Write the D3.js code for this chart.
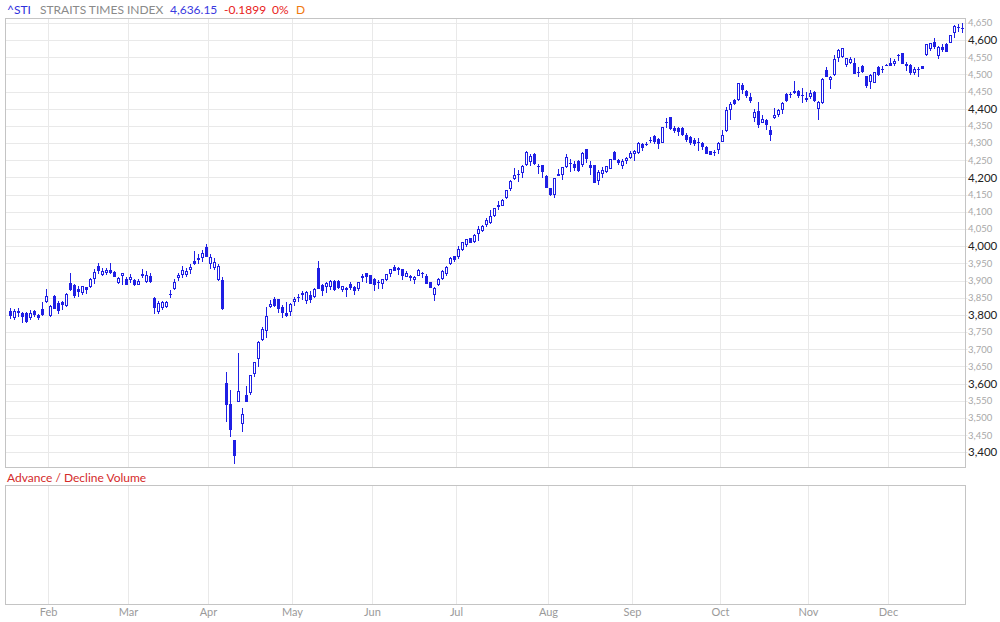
<!DOCTYPE html>
<html><head><meta charset="utf-8">
<script src="https://cdn.jsdelivr.net/npm/d3@7"></script>
<style>
html,body{margin:0;padding:0;background:#fff;}
svg{display:block;font-family:Lato,"Open Sans",sans-serif;}
</style></head>
<body><svg id="chart" width="1000" height="622"></svg>
<script>
// ---- data (STI daily, 2025-01-16 .. 2025-12-26) ----
const opens = [3811,3793,3811,3806,3806,3793,3811,3800,3817,3841,3800,3855,3835,3838,3828,3893,3887,3875,3868,3880,3885,3906,3942,3920,3924,3931,3925,3896,3915,3904,3904,3901,3891,3920,3898,3913,3850,3810,3824,3827,3860,3879,3909,3918,3919,3934,3957,3964,3968,3997,3950,3938,3905,3902,3601,3541,3436,3548,3484,3567,3575,3630,3674,3729,3755,3825,3846,3845,3822,3805,3810,3840,3852,3861,3843,3857,3855,3936,3886,3883,3885,3899,3898,3875,3876,3891,3881,3877,3911,3921,3917,3905,3895,3892,3904,3921,3939,3936,3934,3914,3911,3903,3917,3921,3913,3896,3860,3890,3907,3922,3951,3970,3972,3991,4005,4023,4016,4039,4048,4063,4069,4092,4118,4121,4142,4170,4199,4210,4217,4238,4249,4268,4234,4235,4205,4168,4153,4208,4209,4234,4242,4240,4247,4238,4282,4237,4237,4192,4212,4220,4228,4274,4251,4235,4250,4258,4270,4273,4297,4296,4309,4320,4311,4304,4360,4375,4344,4344,4344,4324,4317,4308,4303,4300,4288,4277,4273,4282,4307,4338,4399,4424,4427,4469,4451,4433,4377,4393,4362,4367,4337,4376,4384,4400,4443,4443,4450,4452,4440,4430,4438,4449,4401,4418,4512,4485,4500,4550,4552,4530,4536,4532,4508,4525,4494,4482,4479,4521,4515,4527,4532,4532,4556,4561,4529,4528,4507,4515,4523,4558,4576,4595,4556,4580,4589,4595,4622,4638,4636];
const highs = [3819,3817,3819,3809,3809,3813,3815,3803,3838,3874,3828,3858,3839,3840,3865,3922,3890,3885,3883,3880,3906,3934,3950,3935,3937,3950,3929,3909,3922,3911,3919,3904,3904,3933,3929,3923,3853,3841,3841,3839,3873,3905,3921,3942,3936,3948,3987,3976,3989,4005,3976,3965,3947,3910,3633,3581,3436,3688,3528,3593,3624,3662,3724,3764,3822,3843,3852,3845,3828,3838,3834,3851,3860,3869,3870,3869,3879,3957,3891,3895,3902,3902,3901,3883,3880,3897,3884,3896,3920,3922,3917,3908,3901,3904,3920,3934,3945,3938,3934,3928,3915,3914,3933,3925,3919,3896,3882,3907,3931,3941,3967,3972,4000,4013,4022,4025,4035,4060,4061,4082,4106,4111,4131,4136,4164,4193,4227,4223,4235,4277,4267,4270,4239,4235,4207,4168,4199,4224,4231,4267,4253,4248,4250,4274,4283,4247,4237,4221,4229,4234,4255,4277,4254,4253,4259,4278,4280,4303,4299,4302,4319,4323,4315,4348,4372,4377,4350,4348,4346,4329,4321,4314,4314,4303,4291,4277,4279,4302,4337,4406,4420,4427,4476,4474,4455,4446,4398,4420,4381,4369,4349,4401,4400,4419,4445,4450,4481,4455,4460,4448,4455,4451,4421,4488,4521,4494,4557,4573,4576,4548,4550,4548,4521,4527,4496,4501,4508,4523,4523,4530,4547,4545,4560,4563,4537,4530,4522,4520,4524,4588,4592,4605,4582,4587,4590,4615,4644,4645,4650];
const lows = [3792,3789,3797,3778,3780,3788,3797,3789,3800,3837,3796,3819,3805,3816,3827,3872,3853,3855,3861,3863,3880,3894,3921,3915,3918,3922,3914,3892,3889,3889,3895,3888,3889,3911,3897,3897,3805,3805,3818,3822,3851,3874,3902,3910,3913,3922,3947,3952,3957,3970,3937,3933,3902,3818,3492,3449,3370,3548,3463,3548,3569,3622,3652,3727,3737,3822,3826,3807,3795,3798,3800,3830,3841,3846,3836,3838,3851,3879,3859,3867,3876,3873,3877,3869,3856,3874,3860,3873,3900,3896,3894,3871,3877,3877,3901,3912,3930,3919,3905,3912,3902,3892,3915,3909,3893,3882,3843,3888,3905,3916,3948,3958,3966,3989,4000,4011,4012,4019,4045,4059,4067,4089,4109,4119,4140,4163,4195,4191,4202,4236,4237,4240,4214,4202,4173,4149,4143,4206,4196,4231,4220,4221,4219,4234,4246,4211,4186,4182,4202,4217,4227,4254,4238,4226,4241,4257,4252,4271,4280,4293,4303,4301,4287,4302,4348,4340,4331,4322,4323,4306,4298,4293,4280,4283,4272,4267,4264,4272,4305,4335,4371,4413,4426,4447,4435,4420,4363,4346,4360,4341,4310,4374,4378,4386,4422,4435,4445,4435,4418,4422,4431,4421,4370,4416,4494,4460,4498,4540,4551,4523,4534,4503,4494,4508,4462,4460,4477,4499,4508,4526,4526,4527,4543,4532,4512,4502,4502,4494,4517,4556,4572,4576,4547,4568,4568,4593,4609,4627,4623];
const closes = [3800,3811,3808,3796,3781,3805,3804,3795,3802,3854,3826,3821,3813,3831,3861,3874,3859,3870,3883,3875,3904,3924,3931,3928,3931,3925,3914,3906,3922,3891,3910,3889,3899,3915,3916,3898,3824,3835,3838,3838,3862,3895,3917,3930,3927,3939,3951,3965,3981,3972,3968,3953,3941,3821,3540,3467,3391,3578,3512,3548,3624,3662,3720,3758,3796,3831,3829,3820,3808,3799,3831,3846,3853,3863,3866,3846,3874,3879,3871,3892,3898,3874,3882,3883,3879,3881,3873,3896,3913,3913,3894,3889,3896,3904,3918,3934,3932,3933,3917,3922,3912,3910,3931,3922,3894,3882,3879,3905,3929,3938,3965,3964,3991,4011,4020,4013,4033,4049,4058,4076,4087,4110,4120,4134,4163,4190,4207,4211,4232,4274,4262,4241,4233,4219,4173,4152,4197,4209,4229,4260,4243,4230,4221,4272,4256,4229,4188,4217,4221,4232,4253,4255,4244,4248,4256,4270,4277,4301,4288,4297,4310,4306,4300,4346,4361,4345,4338,4335,4326,4313,4302,4299,4302,4290,4272,4268,4274,4300,4323,4396,4414,4417,4474,4457,4441,4425,4391,4355,4369,4356,4327,4382,4397,4416,4424,4444,4451,4441,4439,4429,4446,4424,4419,4486,4494,4491,4544,4571,4576,4547,4544,4504,4507,4511,4470,4498,4508,4501,4516,4528,4527,4540,4557,4534,4528,4508,4516,4515,4518,4588,4590,4582,4579,4573,4569,4613,4640,4639,4636];
const firstDay = "2025-01-16", lastDay = "2025-12-26";
const holidays = ["2025-01-29","2025-01-30","2025-03-31","2025-04-18","2025-05-01","2025-05-12","2025-10-20","2025-12-25"];
const yTickValues = [3400,3450,3500,3550,3600,3650,3700,3750,3800,3850,3900,3950,4000,4050,4100,4150,4200,4250,4300,4350,4400,4450,4500,4550,4600,4650];
const monthLabels = ["Jan","Feb","Mar","Apr","May","Jun","Jul","Aug","Sep","Oct","Nov","Dec"];
const headerTexts = ["^STI", "STRAITS TIMES INDEX", "4,636.15", "-0.1899", "0%", "D"];
const headerColors = ["#3030dc", "#8a8a8a", "#3a3ae0", "#e82222", "#e82222", "#f07a10"];
const headerX = [7, 40, 170, 224, 272, 296];
const panelTitle = "Advance / Decline Volume";

// ---- trading days ----
const parse = d3.utcParse("%Y-%m-%d"), fmtDay = d3.utcFormat("%Y-%m-%d");
const hol = new Set(holidays);
const dates = d3.utcDay.range(parse(firstDay), d3.utcDay.offset(parse(lastDay), 1))
  .filter(d => d.getUTCDay() !== 0 && d.getUTCDay() !== 6 && !hol.has(fmtDay(d)));
const N = closes.length;
const candles = d3.range(N).map(i => ({i, date: dates[i], o: opens[i], h: highs[i], l: lows[i], c: closes[i]}));

// ---- layout ----
const svg = d3.select("#chart");
const L = 5.5, R = 965.5, T = 18.5, B = 467.5, T2 = 485.5, B2 = 604.5;
const blue = "#1f1fe4";

const x = d3.scaleBand().domain(d3.range(N)).range([8.5, 8.5 + 4 * N]);
const y = d3.scaleLinear().domain([3356.5, 4663]).range([467.3, 18.3]);

// month starts
const monthStarts = [];
for (let i = 1; i < N; i++) {
  if (dates[i].getUTCMonth() !== dates[i-1].getUTCMonth()) monthStarts.push({i, label: monthLabels[dates[i].getUTCMonth()]});
}

const gridColor = "#e9e9e9", borderColor = "#c4c4c4";

// horizontal grid
svg.append("g").selectAll("line").data(yTickValues).join("line")
  .attr("x1", L).attr("x2", R + 2)
  .attr("y1", d => Math.round(y(d)) + 0.5).attr("y2", d => Math.round(y(d)) + 0.5)
  .attr("stroke", gridColor);

// vertical grid in both panels
const vg = svg.append("g");
vg.selectAll("line.a").data(monthStarts).join("line").attr("class","a")
  .attr("x1", d => x(d.i)).attr("x2", d => x(d.i)).attr("y1", T).attr("y2", B).attr("stroke", gridColor);
vg.selectAll("line.b").data(monthStarts).join("line").attr("class","b")
  .attr("x1", d => x(d.i)).attr("x2", d => x(d.i)).attr("y1", T2).attr("y2", B2).attr("stroke", gridColor);

// panel borders
svg.append("rect").attr("x", L).attr("y", T).attr("width", R - L).attr("height", B - T)
  .attr("fill", "none").attr("stroke", borderColor);
svg.append("rect").attr("x", L).attr("y", T2).attr("width", R - L).attr("height", B2 - T2)
  .attr("fill", "none").attr("stroke", borderColor);

// y labels
svg.append("g").selectAll("text").data(yTickValues).join("text")
  .attr("x", 968).attr("y", d => y(d)).attr("dy", "0.36em")
  .attr("font-size", d => d % 200 === 0 ? 11.5 : 9.5)
  .attr("fill", d => d % 200 === 0 ? "#222" : "#a8a8a8")
  .text(d => d3.format(",")(d));

// x labels
svg.append("g").selectAll("text").data(monthStarts).join("text")
  .attr("x", d => x(d.i)).attr("y", 616).attr("text-anchor", "middle")
  .attr("font-size", 11).attr("fill", "#9a9a9a").text(d => d.label);

// candles
const cx = d => x(d.i) + 2;
const cg = svg.append("g");
cg.selectAll("line").data(candles).join("line")
  .attr("x1", cx).attr("x2", cx)
  .attr("y1", d => Math.round(y(d.h))).attr("y2", d => Math.round(y(d.l)) + 1)
  .attr("stroke", blue);
cg.selectAll("rect").data(candles).join("rect")
  .each(function(d) {
    const top = Math.round(y(Math.max(d.o, d.c))), bot = Math.round(y(Math.min(d.o, d.c)));
    const sel = d3.select(this);
    if (d.c > d.o && bot - top >= 2) {
      sel.attr("x", cx(d) - 1).attr("width", 2).attr("y", top + 0.5).attr("height", bot - top)
        .attr("fill", "#fff").attr("stroke", blue).attr("stroke-width", 1);
    } else {
      sel.attr("x", cx(d) - 1.5).attr("width", 3).attr("y", top).attr("height", Math.max(1, bot - top + 1))
        .attr("fill", blue);
    }
  });

// header
svg.append("g").selectAll("text").data(headerTexts).join("text")
  .attr("x", (d, k) => headerX[k]).attr("y", 14).attr("font-size", 12)
  .attr("fill", (d, k) => headerColors[k]).text(d => d);

// lower panel title
svg.append("text").attr("x", 7).attr("y", 482).attr("font-size", 12).attr("fill", "#d42a2a").text(panelTitle);
</script>
</body></html>
